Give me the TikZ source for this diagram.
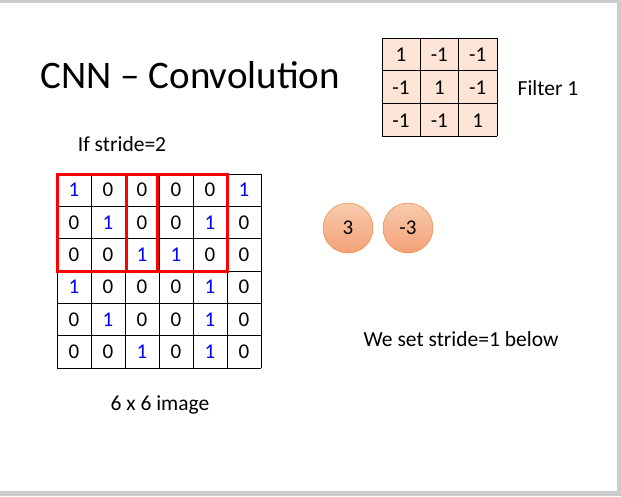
\documentclass[tikz,border=0pt]{standalone}
\usepackage{fontspec}
\setmainfont{Carlito}
\definecolor{edgeor}{RGB}{237,125,49}
\definecolor{topor}{RGB}{248,203,173}
\definecolor{botor}{RGB}{244,161,120}
\definecolor{peach}{RGB}{252,228,214}
\definecolor{blu}{RGB}{0,0,255}
\definecolor{rd}{RGB}{255,0,0}
\begin{document}
\begin{tikzpicture}[x=1pt,y=-1pt,
  cell/.style={font=\fontsize{21}{24}\selectfont},
  lab/.style={font=\fontsize{21.5}{25}\selectfont},
  circ/.style={circle,minimum size=50pt,inner sep=0pt,draw=edgeor,top color=topor,bottom color=botor,font=\fontsize{21}{24}\selectfont},
  redbox/.style={draw=rd,line width=3pt}]
\useasboundingbox (0,0) rectangle (621,496);
\fill[white] (0,0) rectangle (621,496);
\fill[gray!40] (0,0) rectangle (621,3);
\fill[gray!40] (617,0) rectangle (621,496);
\fill[gray!40] (0,491) rectangle (621,496);
\node[anchor=west,font=\fontsize{39}{44}\selectfont] (title) at (37,75) {CNN – Convolution};
\node[lab] (stride2) at (122,144) {If stride=2};
% image grid
\foreach \i in {0,...,6} {
  \draw[line width=0.8pt] (57+34*\i,174) -- (57+34*\i,368);
  \draw[line width=0.8pt] (57,174+32.33*\i) -- (261,174+32.33*\i);
}
\foreach \r/\row in {0/{1,0,0,0,0,1},1/{0,1,0,0,1,0},2/{0,0,1,1,0,0},3/{1,0,0,0,1,0},4/{0,1,0,0,1,0},5/{0,0,1,0,1,0}}{
  \foreach \v [count=\c from 0] in \row {
    \ifnum\v=1
      \node[cell,text=blu] (m\r\c) at (74+34*\c,190+32.33*\r) {1};
    \else
      \node[cell] (m\r\c) at (74+34*\c,190+32.33*\r) {0};
    \fi
  }
}
\draw[redbox] (57,174.5) rectangle (157.5,271.5);
\draw[redbox] (126.5,174.5) rectangle (227.5,271.5);
\node[lab] (cap) at (160,405) {6 x 6 image};
% filter
\fill[peach] (382,38) rectangle (497,136);
\foreach \i in {0,...,3} {
  \draw[line width=0.8pt] (382+38.33*\i,38) -- (382+38.33*\i,136);
  \draw[line width=0.8pt] (382,38+32.67*\i) -- (497,38+32.67*\i);
}
\foreach \r/\row in {0/{1,-1,-1},1/{-1,1,-1},2/{-1,-1,1}}{
  \foreach \v [count=\c from 0] in \row {
    \node[cell] (f\r\c) at (401+38.33*\c,55+32.67*\r) {\v};
  }
}
\node[lab] (filt) at (548,88) {Filter 1};
\node[circ] (c1) at (348,228) {3};
\node[circ] (c2) at (408,228) {-3};
\node[lab] (s1) at (461,339) {We set stride=1 below};
\end{tikzpicture}
\end{document}
